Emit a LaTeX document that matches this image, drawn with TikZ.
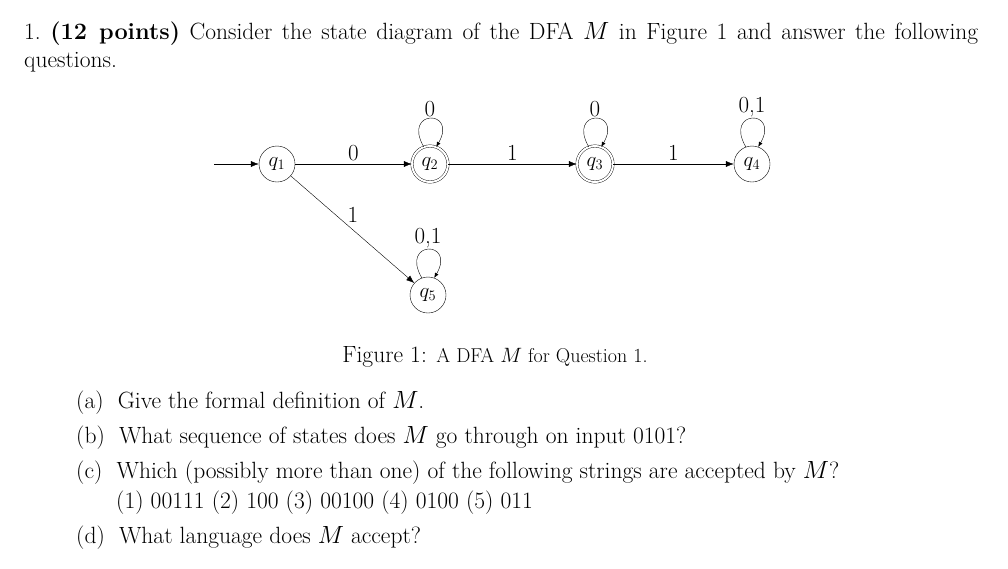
\documentclass[tikz,border=0pt]{standalone}
\usetikzlibrary{arrows.meta,automata}
\begin{document}
\begin{tikzpicture}[x=1pt,y=-1pt,
  st/.style={circle,draw,thin,minimum size=36pt,inner sep=0pt,font=\fontsize{22}{24}\selectfont},
  acc/.style={st,double,double distance=2pt},
  ar/.style={-{Latex[length=8pt,width=6pt]},thin},
  lp/.style={-{Latex[length=5pt,width=4pt]},thin,looseness=9,out=120,in=60},
  lb/.style={font=\fontsize{23}{24}\selectfont,inner sep=1pt},
  txt/.style={anchor=base west,inner sep=0pt,font=\fontsize{23.5}{26}\selectfont}]
\useasboundingbox (0,0) rectangle (1008,568);
\node[anchor=north west,inner sep=0pt,text width=954pt,align=justify,font=\fontsize{23.5}{28}\selectfont] (p) at (24,22)
 {\hangindent=42pt\hangafter=1 1.\ \textbf{(12 points)} Consider the state diagram of the DFA $M$ in Figure 1 and answer the following questions.};
\node[st]  (q1) at (277,164) {$q_1$};
\node[acc] (q2) at (430,164) {$q_2$};
\node[acc] (q3) at (595,164) {$q_3$};
\node[st]  (q4) at (752,164) {$q_4$};
\node[st]  (q5) at (428,295) {$q_5$};
\coordinate (s) at (214,164);
\draw[ar] (s) -- (q1);
\draw[ar] (q1) -- node[lb,above=2pt]{0} (q2);
\draw[ar] (q2) -- node[lb,above=2pt]{1} (q3);
\draw[ar] (q3) -- node[lb,above=2pt]{1} (q4);
\draw[ar] (q1) -- node[lb,above right,pos=0.45]{1} (q5);
\draw[lp] (q2.110) to node[lb,above]{0} (q2.70);
\draw[lp] (q3.110) to node[lb,above]{0} (q3.70);
\draw[lp] (q4.110) to node[lb,above]{0,1} (q4.70);
\draw[lp] (q5.110) to node[lb,above]{0,1} (q5.70);
\node[anchor=base,inner sep=0pt,font=\fontsize{23.5}{24}\selectfont] (cap) at (495,362) {Figure 1: {\fontsize{20}{22}\selectfont A DFA $M$ for Question 1.}};
\node[txt] (a) at (76,408) {(a)\ \ Give the formal definition of $M$.};
\node[txt] (b) at (76,443) {(b)\ \ What sequence of states does $M$ go through on input 0101?};
\node[txt] (c) at (76,478) {(c)\ \ Which (possibly more than one) of the following strings are accepted by $M$?};
\node[txt] (c1) at (116,508) {(1) 00111 (2) 100 (3) 00100 (4) 0100 (5) 011};
\node[txt] (d) at (76,543) {(d)\ \ What language does $M$ accept?};
\end{tikzpicture}
\end{document}
